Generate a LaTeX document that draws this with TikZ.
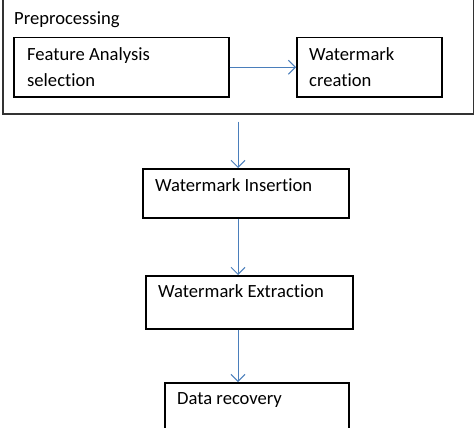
\documentclass[tikz,border=0pt]{standalone}
\usepackage{fontspec}
\setmainfont[Ligatures=NoCommon]{Carlito}
\usetikzlibrary{arrows.meta}
\definecolor{arrowblue}{RGB}{74,126,187}
\definecolor{framegray}{RGB}{50,50,50}
\tikzset{
  box/.style={draw=black, line width=1.5pt, rectangle, inner sep=0pt, anchor=north west},
  outerbox/.style={draw=framegray, line width=2pt, rectangle, inner sep=0pt, anchor=north west},
  lbl/.style={anchor=base west, inner sep=0pt, font=\fontsize{18.6}{25}\selectfont, text=black},
  arr/.style={draw=arrowblue, line width=1pt, -{Straight Barb[length=7pt,width=14pt,line width=1pt]}}
}
\begin{document}
\begin{tikzpicture}[x=1pt,y=-1pt]
\useasboundingbox (0,0) rectangle (474,428);
\clip (0,0) rectangle (474,428);
\node[outerbox, minimum width=471pt, minimum height=120pt] (pre) at (1.5,-7.5) {};
\node[box, minimum width=215pt, minimum height=59pt] (fa) at (13,37) {};
\node[box, minimum width=145pt, minimum height=59pt] (wc) at (296,37) {};
\node[box, minimum width=206pt, minimum height=49pt] (ins) at (142,168) {};
\node[box, minimum width=207pt, minimum height=53pt] (ext) at (145,275) {};
\node[box, minimum width=184pt, minimum height=70pt] (rec) at (164,382) {};
\node[lbl] (tpre) at (14,25) {Preprocessing};
\node[lbl] (tfa1) at (27,61) {Feature Analysis};
\node[lbl] (tfa2) at (27,86) {selection};
\node[lbl] (twc1) at (309,61) {Watermark};
\node[lbl] (twc2) at (309,86) {creation};
\node[lbl] (tins) at (155,191) {Watermark Insertion};
\node[lbl] (text) at (158,297) {Watermark Extraction};
\node[lbl] (trec) at (177,404) {Data recovery};
\coordinate (ax) at (238,0);
\draw[arr] (fa.east) -- (wc.west);
\draw[arr, shorten <=7pt] (pre.south -| ax) -- (ins.north -| ax);
\draw[arr] (ins.south -| ax) -- (ext.north -| ax);
\draw[arr] (ext.south -| ax) -- (rec.north -| ax);
\end{tikzpicture}
\end{document}
